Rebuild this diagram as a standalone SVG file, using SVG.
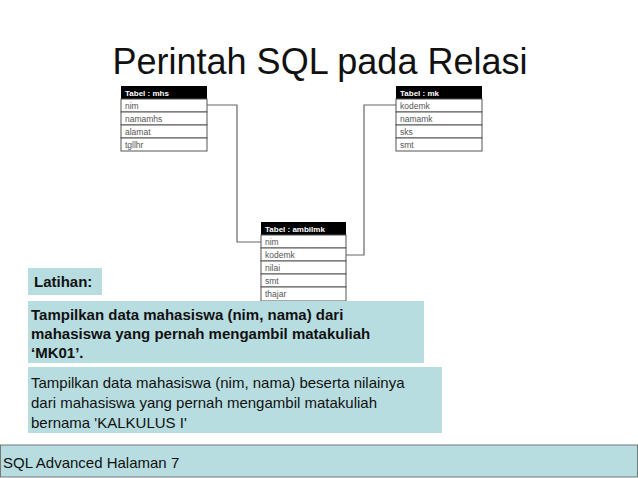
<svg xmlns="http://www.w3.org/2000/svg" width="638" height="478" viewBox="0 0 638 478">
<style>
.hd{fill:#000}
.hdt{font-family:"Liberation Sans",Arial,sans-serif;font-size:8px;font-weight:bold;fill:#fff}
.row{fill:#fff;stroke:#555;stroke-width:1}
.rt{font-family:"Liberation Sans",Arial,sans-serif;font-size:8.5px;fill:#555}
.conn{fill:none;stroke:#666;stroke-width:1.2}
.box{fill:#b7dde0}
.bt{font-family:"Liberation Sans",Arial,sans-serif;font-size:15px;fill:#111}
</style>
<rect width="638" height="478" fill="#fff"/>
<text x="320" y="74" text-anchor="middle" font-family="Liberation Sans,Arial,sans-serif" font-size="36" fill="#111">Perintah SQL pada Relasi</text>
<g id="connectors">
<polyline class="conn" points="207,105 237,105 237,242 261,242"/>
<polyline class="conn" points="396,105 364,105 364,255 346,255"/>
</g>
<g id="mhs">
<rect class="hd" x="121" y="86" width="86" height="13"/><text class="hdt" x="125" y="96">Tabel : mhs</text>
<rect class="row" x="121" y="99" width="86" height="13"/><text class="rt" x="125" y="109">nim</text>
<rect class="row" x="121" y="112" width="86" height="13"/><text class="rt" x="125" y="122">namamhs</text>
<rect class="row" x="121" y="125" width="86" height="13"/><text class="rt" x="125" y="135">alamat</text>
<rect class="row" x="121" y="138" width="86" height="13"/><text class="rt" x="125" y="148">tgllhr</text>
</g>
<g id="mk">
<rect class="hd" x="396" y="86" width="86" height="13"/><text class="hdt" x="400" y="96">Tabel : mk</text>
<rect class="row" x="396" y="99" width="86" height="13"/><text class="rt" x="400" y="109">kodemk</text>
<rect class="row" x="396" y="112" width="86" height="13"/><text class="rt" x="400" y="122">namamk</text>
<rect class="row" x="396" y="125" width="86" height="13"/><text class="rt" x="400" y="135">sks</text>
<rect class="row" x="396" y="138" width="86" height="13"/><text class="rt" x="400" y="148">smt</text>
</g>
<g id="ambilmk">
<rect class="hd" x="261" y="222" width="85" height="13"/><text class="hdt" x="265" y="232">Tabel : ambilmk</text>
<rect class="row" x="261" y="235" width="85" height="13"/><text class="rt" x="265" y="245">nim</text>
<rect class="row" x="261" y="248" width="85" height="13"/><text class="rt" x="265" y="258">kodemk</text>
<rect class="row" x="261" y="261" width="85" height="13"/><text class="rt" x="265" y="271">nilai</text>
<rect class="row" x="261" y="274" width="85" height="13"/><text class="rt" x="265" y="284">smt</text>
<rect class="row" x="261" y="287" width="85" height="14"/><text class="rt" x="265" y="297">thajar</text>
</g>
<g id="latihan">
<rect class="box" x="28" y="268" width="74" height="27"/>
<text class="bt" x="34" y="287" font-weight="bold">Latihan:</text>
</g>
<g id="soal1">
<rect class="box" x="28" y="301" width="396" height="62"/>
<text class="bt" font-weight="bold"><tspan x="31" y="320">Tampilkan data mahasiswa (nim, nama) dari</tspan><tspan x="31" y="339">mahasiswa yang pernah mengambil matakuliah</tspan><tspan x="31" y="358">‘MK01’.</tspan></text>
</g>
<g id="soal2">
<rect class="box" x="28" y="367" width="414" height="66"/>
<text class="bt"><tspan x="31" y="388">Tampilkan data mahasiswa (nim, nama) beserta nilainya</tspan><tspan x="31" y="408">dari mahasiswa yang pernah mengambil matakuliah</tspan><tspan x="31" y="428">bernama 'KALKULUS I'</tspan></text>
</g>
<g id="footer">
<rect x="0.5" y="445" width="637" height="32" fill="#b7dde0" stroke="#777"/>
<text class="bt" x="3" y="468" font-size="16">SQL Advanced Halaman 7</text>
</g>
</svg>
